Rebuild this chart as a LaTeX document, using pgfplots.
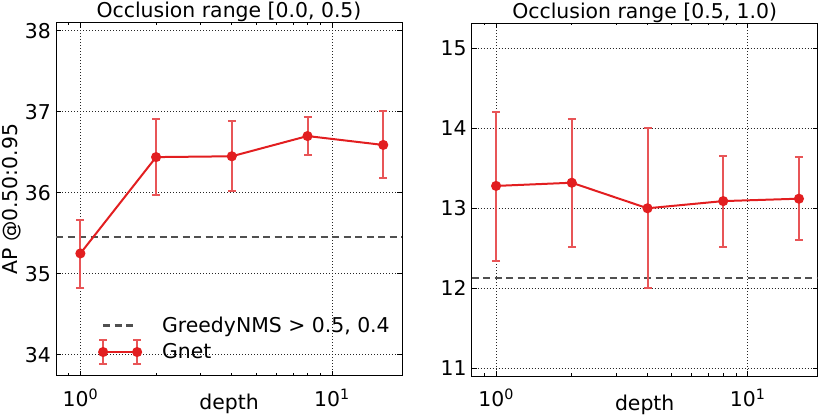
\documentclass[border=0pt]{standalone}
\usepackage{pgfplots}
\pgfplotsset{compat=1.18}
\usepackage{fontspec}
\setmainfont{DejaVu Sans}
\definecolor{gred}{RGB}{226,30,32}
\definecolor{ered}{RGB}{232,85,87}
\definecolor{dgray}{RGB}{80,80,80}

\pgfplotstableread{
x y ep em
1 35.25 0.41 0.43
2 36.44 0.47 0.47
4 36.45 0.44 0.43
8 36.70 0.24 0.23
16 36.59 0.42 0.41
}\lefttab

\pgfplotstableread{
x y ep em
1 13.28 0.93 0.94
2 13.32 0.80 0.80
4 13.00 1.00 1.00
8 13.09 0.57 0.57
16 13.12 0.52 0.52
}\righttab

\pgfplotsset{
  every axis/.append style={
  scale only axis, width=346pt, height=353pt,
  grid=major,
  major grid style={dash pattern=on 1pt off 2pt, black!85, line width=0.6pt},
  axis line style={black, line width=0.9pt},
  every tick/.style={black, line width=0.8pt},
  major tick length=5pt, minor tick length=2.5pt,
  /pgf/number format/assume math mode=true,
  font=\fontsize{20.4}{24}\selectfont,
  tick label style={font=\fontsize{20.4}{24}\selectfont},
  xticklabel style={anchor=base, yshift=-31pt},
  yticklabel style={xshift=-1.6pt},
  title style={at={(axis description cs:0.5,1)}, anchor=base, yshift=-1.3pt, font=\fontsize{20.4}{24}\selectfont},
  xlabel style={at={(axis description cs:0.5,-0.097)}, anchor=base, font=\fontsize{20.4}{24}\selectfont},
 }
}

\begin{document}
\begin{tikzpicture}
\useasboundingbox (0,0) rectangle (821pt,417pt);
\begin{axis}[at={(56pt,41.3pt)}, anchor=south west,
  xmode=log, xmin=0.8, xmax=19,
  xtick={1,10}, xticklabels={10\textsuperscript{0},10\textsuperscript{1}},
  minor xtick={0.9,2,3,4,5,6,7,8,9},
  xlabel={depth},
  ymin=33.74, ymax=38.10, ytick={34,35,36,37,38},
  title={Occlusion range [0.0, 0.5)},
  ylabel={AP @0.50:0.95},
  ylabel style={at={(axis description cs:-0.127,0.5)}, anchor=center, font=\fontsize{20.4}{24}\selectfont},
  legend style={draw=none, fill=none, at={(axis description cs:0.1125,0.024)}, anchor=south west,
    row sep=3pt, font=\fontsize{20.4}{24}\selectfont,
    /tikz/every odd column/.append style={column sep=18pt}},
  legend cell align=left,
]
\addplot[dgray, line width=2.2pt, dash pattern=on 7pt off 4.5pt,
  legend image code/.code={\draw[dgray, line width=2.2pt, dash pattern=on 7pt off 4.5pt] (0pt,0pt) -- (34pt,0pt);}]
  coordinates {(0.8,35.45) (19,35.45)};
\addlegendentry{GreedyNMS > 0.5, 0.4}
\addplot[gred, line width=2pt, mark=*, mark size=4pt, mark options={solid, fill=gred},
  legend image code/.code={
  \draw[ered, line width=2pt] (0pt,-12pt) -- (0pt,12pt) (34pt,-12pt) -- (34pt,12pt)
    (-4pt,-12pt) -- (4pt,-12pt) (-4pt,12pt) -- (4pt,12pt)
    (30pt,-12pt) -- (38pt,-12pt) (30pt,12pt) -- (38pt,12pt);
  \draw[gred, line width=2pt] (0pt,0pt) -- (34pt,0pt);
  \fill[gred] (0pt,0pt) circle (4pt) (34pt,0pt) circle (4pt);},
  error bars/.cd, y dir=both, y explicit,
  error bar style={ered, line width=2pt},
  error mark options={rotate=90, mark size=4pt, line width=2pt, ered}]
  table[x=x, y=y, y error plus=ep, y error minus=em] {\lefttab};
\addlegendentry{Gnet}
\end{axis}

\begin{axis}[at={(471.7pt,41pt)}, anchor=south west,
  xmode=log, xmin=0.8, xmax=19,
  xtick={1,10}, xticklabels={10\textsuperscript{0},10\textsuperscript{1}},
  minor xtick={0.9,2,3,4,5,6,7,8,9},
  xlabel={depth},
  ymin=10.90, ymax=15.32, ytick={11,12,13,14,15},
  title={Occlusion range [0.5, 1.0)},
]
\addplot[dgray, line width=2.2pt, dash pattern=on 7pt off 4.5pt]
  coordinates {(0.8,12.13) (19,12.13)};
\addplot[gred, line width=2pt, mark=*, mark size=4pt, mark options={solid, fill=gred},
  error bars/.cd, y dir=both, y explicit,
  error bar style={ered, line width=2pt},
  error mark options={rotate=90, mark size=4pt, line width=2pt, ered}]
  table[x=x, y=y, y error plus=ep, y error minus=em] {\righttab};
\end{axis}
\end{tikzpicture}
\end{document}
